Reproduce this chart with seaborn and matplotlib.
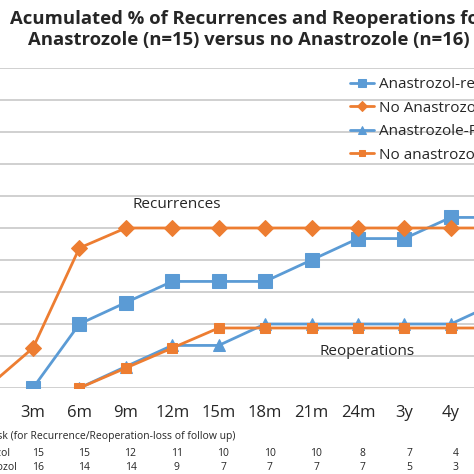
import numpy as np
import pandas as pd
import seaborn as sns
import matplotlib.pyplot as plt

# time points (the last one lies outside the cropped view)
time_labels = ["0", "3m", "6m", "9m", "12m", "15m", "18m", "21m", "24m", "3y", "4y", "5y"]

# accumulated % (NaN = not drawn)
ana_recur = [np.nan, 0, 20, 26.7, 33.3, 33.3, 33.3, 40, 46.7, 46.7, 53.3, 53.3]
no_ana_recur = [0, 12.5, 43.75, 50, 50, 50, 50, 50, 50, 50, 50, 50]
ana_reop = [np.nan, np.nan, 0, 6.7, 13.3, 13.3, 20, 20, 20, 20, 20, 26.7]
no_ana_reop = [np.nan, np.nan, 0, 6.25, 12.5, 18.75, 18.75, 18.75, 18.75, 18.75, 18.75, 18.75]

# patients at risk
risk_ana = [15, 15, 12, 11, 10, 10, 10, 8, 7, 4]
risk_no_ana = [16, 14, 14, 9, 7, 7, 7, 7, 5, 3]

BLUE = "#5B9BD5"
ORANGE = "#ED7D31"

sns.set_style("white")
plt.rcParams["font.family"] = ["Open Sans", "DejaVu Sans"]

fig = plt.figure(figsize=(4.74, 4.74), dpi=100)
ax = fig.add_axes([0, 1 - 388 / 474, 1, 320 / 474])

x = np.arange(len(time_labels))
series = [
    (ana_recur, "Anastrozol-recurrences", BLUE, "s", 10),
    (no_ana_recur, "No Anastrozol-recurrences", ORANGE, "D", 8),
    (ana_reop, "Anastrozole-Reoperations", BLUE, "^", 9),
    (no_ana_reop, "No anastrozol-reoperations", ORANGE, "s", 7),
]
for vals, name, col, mk, ms in series:
    df = pd.DataFrame({"t": x, "v": vals}).dropna()
    sns.lineplot(data=df, x="t", y="v", ax=ax, color=col, marker=mk, markersize=ms,
                 markeredgecolor=col, linewidth=2, label=name, clip_on=True)

ax.set_xlim(0.29, 10.5)
ax.set_ylim(0, 100)
ax.set_yticks(np.arange(0, 101, 10))
ax.yaxis.grid(True, color="#c8c8c8", linewidth=1.2)
ax.set_axisbelow(True)
ax.set_xticks(x[1:11])
ax.set_xticklabels(time_labels[1:11], fontsize=12)
ax.tick_params(axis="x", length=0, pad=12)
ax.tick_params(axis="y", length=0, labelleft=False)
ax.set_xlabel("")
ax.set_ylabel("")
for s in ax.spines.values():
    s.set_visible(False)

ax.legend(loc="upper left", bbox_to_anchor=(0.725, 0.99), frameon=False, fontsize=11,
          handlelength=1.6, handletextpad=0.3, labelspacing=0.55, borderaxespad=0,
          markerscale=0.6)

ax.text(4.1, 57.5, "Recurrences", fontsize=11, ha="center", va="center")
ax.text(8.2, 11.5, "Reoperations", fontsize=11, ha="center", va="center")

fig.text(0.525, 0.978, "Acumulated % of Recurrences and Reoperations for\n"
         "Anastrozole (n=15) versus no Anastrozole (n=16)",
         ha="center", va="top", fontsize=13.3, fontweight="bold", linespacing=1.2)

# at-risk table
fig.text(-0.135, 1 - 437 / 474, "Patients at risk (for Recurrence/Reoperation-loss of follow up)",
         fontsize=7.5, va="center", ha="left")
fig.text(10 / 474, 1 - 453 / 474, "Anastrozol", fontsize=7.5, va="center", ha="right")
fig.text(17 / 474, 1 - 467 / 474, "No Anastrozol", fontsize=7.5, va="center", ha="right")
for i in range(len(risk_ana)):
    ax.text(x[i + 1] + 0.1, -20.5, str(risk_ana[i]), fontsize=7.5, ha="center", va="center", clip_on=False)
    ax.text(x[i + 1] + 0.1, -24.8, str(risk_no_ana[i]), fontsize=7.5, ha="center", va="center", clip_on=False)

fig.savefig("out.png", dpi=100)
